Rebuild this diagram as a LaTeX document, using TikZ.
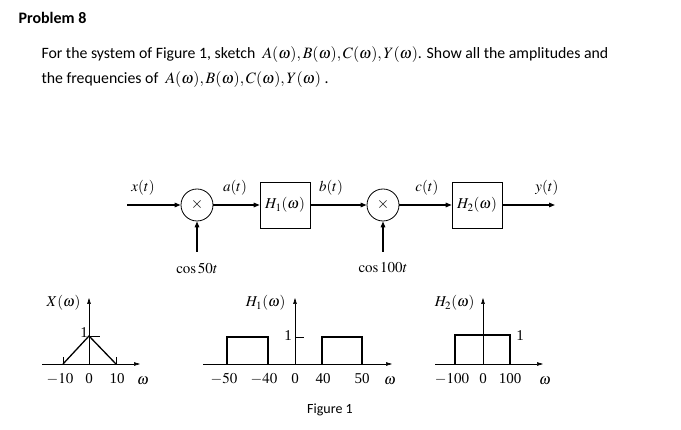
\documentclass[tikz,border=0pt]{standalone}
\usepackage{mathptmx}
\usepackage{fontspec}
\setmainfont{Liberation Serif}
\newfontfamily\carlitofam{Carlito}
\usetikzlibrary{arrows.meta}
\begin{document}
\begin{tikzpicture}[x=1pt,y=-1pt,
  sig/.style={line width=1.3pt,-{Triangle[length=6pt,width=4.5pt]}},
  ax/.style={line width=0.6pt,-{Triangle[length=6pt,width=3.5pt]}},
  gr/.style={line width=1.3pt},
  blk/.style={draw,line width=0.6pt,minimum width=50pt,minimum height=46pt,font=\fontsize{15}{17}\selectfont},
  mul/.style={draw,line width=0.8pt,circle,minimum size=32pt,inner sep=0pt,font=\fontsize{16}{18}\selectfont},
  lab/.style={font=\fontsize{15}{17}\selectfont},
  prose/.style={font=\carlitofam\fontsize{15.8}{18}\selectfont,anchor=west}]
\useasboundingbox (0,0) rectangle (681,430);
\node[prose,font=\carlitofam\bfseries\fontsize{16}{18}\selectfont] (title) at (15,18) {Problem 8};
\node[prose] (l1) at (38,55) {For the system of Figure 1, sketch \ $A(\omega),B(\omega),C(\omega),Y(\omega)$. Show all the amplitudes and};
\node[prose] (l2) at (38,80) {the frequencies of \ $A(\omega),B(\omega),C(\omega),Y(\omega)$ .};
% block diagram
\coordinate (xin) at (127,205);
\node[mul] (m1) at (197,205) {$\times$};
\node[blk] (h1) at (285,205) {$H_1(\omega)$};
\node[mul] (m2) at (383,205) {$\times$};
\node[blk] (h2) at (477,205) {$H_2(\omega)$};
\coordinate (yout) at (555,205);
\coordinate (c1) at (197,252);
\coordinate (c2) at (383,252);
\draw[sig] (xin) -- (m1);
\draw[sig] (m1) -- (h1);
\draw[sig] (h1) -- (m2);
\draw[sig] (m2) -- (h2);
\draw[sig] (h2) -- (yout);
\draw[sig] (c1) -- (m1);
\draw[sig] (c2) -- (m2);
\node[lab] (lx) at (143,188) {$x(t)$};
\node[lab] (la) at (235,188) {$a(t)$};
\node[lab] (lb) at (331,188) {$b(t)$};
\node[lab] (lc) at (427,188) {$c(t)$};
\node[lab] (ly) at (547,188) {$y(t)$};
\node[lab] (lc1) at (197,268) {$\cos 50t$};
\node[lab] (lc2) at (383,268) {$\cos 100t$};
% X plot
\draw[ax] (42,364) -- (140,364);
\draw[ax] (89,364) -- (89,298);
\draw[gr] (63,364) -- (89,336) -- (116,364);
\draw[line width=0.6pt] (63,357) -- (63,364) (116,357) -- (116,364) (89,336) -- (100,336);
\node[lab,anchor=east] (X) at (84,303) {$X(\omega)$};
\node[lab] (X1) at (84,333) {1};
\node[lab] at (60,379) {$-10$};
\node[lab] at (89,379) {0};
\node[lab] at (117,379) {10};
\node[lab] at (143,381) {$\omega$};
% H1 plot
\draw[ax] (203,364) -- (392,364);
\draw[ax] (295,364) -- (295,298);
\draw[gr] (227,364) -- (227,337) -- (268,337) -- (268,364) (322,364) -- (322,337) -- (362,337) -- (362,364);
\draw[line width=0.6pt] (295,337) -- (304,337);
\node[lab,anchor=east] (H1) at (289,303) {$H_1(\omega)$};
\node[lab] at (288,336) {1};
\node[lab] at (224,379) {$-50$};
\node[lab] at (264,379) {$-40$};
\node[lab] at (295,379) {0};
\node[lab] at (323,379) {40};
\node[lab] at (362,379) {50};
\node[lab] at (390,381) {$\omega$};
% H2 plot
\draw[ax] (435,364) -- (543,364);
\draw[ax] (483,364) -- (483,298);
\draw[gr] (455,364) -- (455,335) -- (510,335) -- (510,364);
\node[lab,anchor=east] (H2) at (478,303) {$H_2(\omega)$};
\node[lab] at (520,336) {1};
\node[lab] at (452,379) {$-100$};
\node[lab] at (483,379) {0};
\node[lab] at (510,379) {100};
\node[lab] at (545,381) {$\omega$};
\node[font=\carlitofam\fontsize{14}{16}\selectfont] (fig) at (330,410) {Figure 1};
\end{tikzpicture}
\end{document}
